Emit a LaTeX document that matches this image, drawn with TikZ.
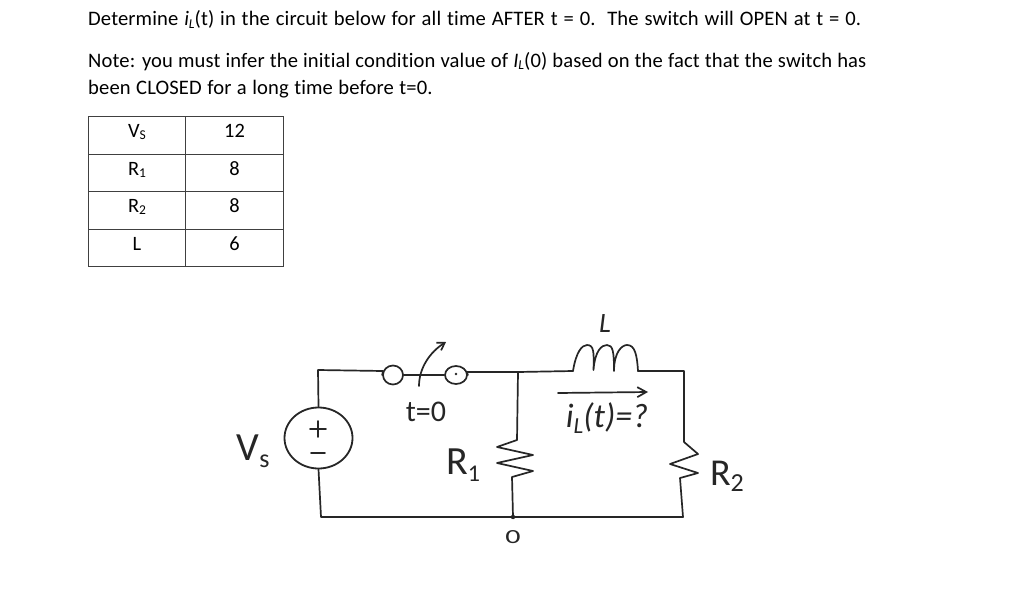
\documentclass[tikz,border=0pt]{standalone}
\usepackage{fontspec}
\usetikzlibrary{shapes.geometric,arrows.meta}
\setmainfont{Carlito}[Ligatures=NoCommon,Renderer=Basic,Kerning=On,LetterSpace=0.6]
\newfontfamily\cellfont{Carlito}
\newfontfamily\handfont{Carlito}
\newcommand{\lowsub}[1]{\raisebox{-.3ex}{\fontsize{13.5}{13.5}\selectfont #1}}
\newcommand{\handsub}[2]{\raisebox{-.35ex}{\fontsize{#1}{#1}\selectfont #2}}
\definecolor{ink}{HTML}{262626}
\tikzset{
  x=1pt,y=-1pt,
  para/.style={anchor=base west,inner sep=0,font=\fontsize{20.6}{22}\selectfont,text=black},
  cell/.style={anchor=base,inner sep=0,font=\cellfont\fontsize{20.4}{22}\selectfont,text=black},
  gridline/.style={draw=black!75,line width=1pt},
  wire/.style={draw=ink,line width=1.7pt,line join=round,line cap=round},
  term/.style={ellipse,draw=ink,line width=1.7pt,inner sep=0,minimum width=20pt,minimum height=19pt},
  hand/.style={inner sep=0,text=ink,font=\handfont\fontsize{29}{30}\selectfont},
}
\begin{document}
\begin{tikzpicture}
\useasboundingbox[fill=white] (0,0) rectangle (1024,610);
% text
\node[para] (line1) at (88,26) {\spaceskip=5.9pt Determine \textit{i\lowsub{L}}(t) in the circuit below for all time AFTER t = 0.\ \ The switch will OPEN at t = 0.};
\node[para] (line2) at (88,67) {\spaceskip=5.1pt Note: you must infer the initial condition value of \textit{I\lowsub{L}}(0) based on the fact that the switch has};
\node[para] (line3) at (88,94) {\spaceskip=5.5pt been CLOSED for a long time before t=0.};
% table
\draw[gridline] (88,116.5) rectangle (283,266.5);
\draw[gridline] (185.5,116.5) -- (185.5,266.5);
\draw[gridline] (88,154) -- (283,154);
\draw[gridline] (88,191.5) -- (283,191.5);
\draw[gridline] (88,229) -- (283,229);
\node[cell] (a1) at (137,137) {V\lowsub{S}};
\node[cell] (b1) at (234.5,137) {12};
\node[cell] (a2) at (137,175) {R\lowsub{1}};
\node[cell] (b2) at (234.5,175) {8};
\node[cell] (a3) at (137,212) {R\lowsub{2}};
\node[cell] (b3) at (234.5,212) {8};
\node[cell] (a4) at (137,250) {L};
\node[cell] (b4) at (234.5,250) {6};
% circuit elements
\node[ellipse,draw=ink,line width=1.8pt,inner sep=0,minimum width=68pt,minimum height=61pt] (src) at (318.5,438) {};
\node[term] (sw1) at (393,375) {};
\node[term,minimum width=22pt,minimum height=18pt] (sw2) at (456,375) {};
\fill[ink] (456,374) circle (1.3);
\coordinate (tl) at (318,370);
\coordinate (bl) at (321,517);
\coordinate (j1) at (518,372);
\coordinate (j2) at (513,517);
\coordinate (ls) at (573,371);
\coordinate (le) at (638,371);
\coordinate (tr) at (684,371);
\coordinate (br) at (683,517);
% wires
\draw[wire] (src.north) -- (tl) -- (383,371) -- (sw1.west);
\draw[wire] (sw1.east) -- (sw2.west);
\draw[wire] (sw2.east) -- (467,372) -- (j1) -- (ls);
\draw[wire] (le) -- (tr) -- (684,442) -- (698,454) -- (670,464) -- (698,473) -- (680,478) -- (br) -- (j2) -- (bl) -- (src.south);
\draw[wire] (j1) -- (517,440) -- (497,447) -- (533,455) -- (497,463) -- (533,471) -- (512,477) -- (j2);
\fill[ink] (j2) circle (2.2);
% inductor
\draw[wire] (ls) .. controls (576,352) and (582,345) .. (587,345) .. controls (594,345) and (594,352) .. (593.5,370)
  .. controls (595,350) and (602,345) .. (607,345) .. controls (613,345) and (614,352) .. (614,371)
  .. controls (614,352) and (622,345) .. (627,345) .. controls (635,345) and (637,355) .. (le);
% switch arm and current arrow
\draw[wire,-{Straight Barb[length=7pt,width=9pt]}] (419,386) .. controls (419,368) and (430,352) .. (446,342);
\draw[wire,-{Straight Barb[length=9pt,width=10pt]}] (558,393) -- (648,392);
% source polarity
\draw[wire] (318,421) -- (318,437);
\draw[wire] (310,429) -- (326,429);
\draw[wire] (311,453) -- (325,453);
% handwritten labels
\node[hand,font=\handfont\fontsize{40}{40}\selectfont] (lblVs) at (253,451) {V\handsub{26}{s}};
\node[hand,font=\handfont\fontsize{30}{30}\selectfont] (lblT) at (426,412) {t=0};
\node[hand,font=\handfont\fontsize{40}{40}\selectfont] (lblR1) at (463,465) {R\handsub{24}{1}};
\node[hand,font=\handfont\fontsize{38}{38}\selectfont] (lblR2) at (727,476) {R\handsub{26}{2}};
\node[hand,font=\handfont\itshape\fontsize{28}{28}\selectfont] (lblL) at (605,324) {L};
\node[hand,font=\handfont\itshape\fontsize{34}{34}\selectfont] (lblI) at (607,418) {i\handsub{23}{L}(t)=?};
\node[hand,xscale=1.5,font=\handfont\fontsize{20}{20}\selectfont] (lblZero) at (513,537) {0};
\end{tikzpicture}
\end{document}
